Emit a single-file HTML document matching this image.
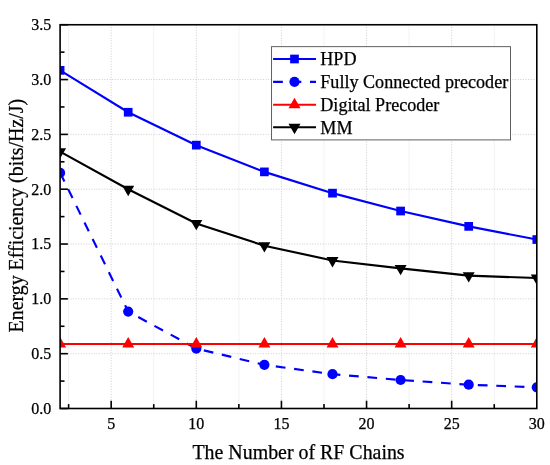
<!DOCTYPE html>
<html lang="en"><head><meta charset="utf-8"><title>Energy Efficiency vs RF Chains</title>
<style>html,body{margin:0;padding:0;background:#fff}body{width:550px;height:465px;overflow:hidden}svg{display:block}text{stroke:#000;stroke-width:0.25px;font-family:"Liberation Serif","Times New Roman",serif;fill:#000}</style></head><body>
<svg width="550" height="465" viewBox="0 0 550 465">
<rect width="550" height="465" fill="#fff"/>
<defs><clipPath id="pc"><rect x="60.1" y="24.75" width="476.70" height="383.75"/></clipPath></defs>
<g stroke-width="1" stroke-dasharray="1 1.6" fill="none"><line x1="68.61" x2="68.61" y1="24.75" y2="408.5" stroke="#f2f2f2" stroke-dasharray="none"/><line x1="111.17" x2="111.17" y1="24.75" y2="408.5" stroke="#cdcdcd"/><line x1="153.74" x2="153.74" y1="24.75" y2="408.5" stroke="#f2f2f2" stroke-dasharray="none"/><line x1="196.30" x2="196.30" y1="24.75" y2="408.5" stroke="#cdcdcd"/><line x1="238.86" x2="238.86" y1="24.75" y2="408.5" stroke="#f2f2f2" stroke-dasharray="none"/><line x1="281.43" x2="281.43" y1="24.75" y2="408.5" stroke="#cdcdcd"/><line x1="323.99" x2="323.99" y1="24.75" y2="408.5" stroke="#f2f2f2" stroke-dasharray="none"/><line x1="366.55" x2="366.55" y1="24.75" y2="408.5" stroke="#cdcdcd"/><line x1="409.11" x2="409.11" y1="24.75" y2="408.5" stroke="#f2f2f2" stroke-dasharray="none"/><line x1="451.67" x2="451.67" y1="24.75" y2="408.5" stroke="#cdcdcd"/><line x1="494.24" x2="494.24" y1="24.75" y2="408.5" stroke="#f2f2f2" stroke-dasharray="none"/><line x1="60.1" x2="536.8" y1="353.68" y2="353.68" stroke="#cdcdcd"/><line x1="60.1" x2="536.8" y1="298.86" y2="298.86" stroke="#cdcdcd"/><line x1="60.1" x2="536.8" y1="244.04" y2="244.04" stroke="#cdcdcd"/><line x1="60.1" x2="536.8" y1="189.21" y2="189.21" stroke="#cdcdcd"/><line x1="60.1" x2="536.8" y1="134.39" y2="134.39" stroke="#cdcdcd"/><line x1="60.1" x2="536.8" y1="79.57" y2="79.57" stroke="#cdcdcd"/></g>
<g clip-path="url(#pc)">
<polyline points="60.10,70.36 128.20,112.25 196.30,145.14 264.40,171.89 332.50,193.16 400.60,211.03 468.70,226.38 536.80,239.54" fill="none" stroke="#0000ff" stroke-width="2.15"/>
<rect x="55.75" y="66.01" width="8.7" height="8.7" fill="#0000ff"/>
<rect x="123.85" y="107.90" width="8.7" height="8.7" fill="#0000ff"/>
<rect x="191.95" y="140.79" width="8.7" height="8.7" fill="#0000ff"/>
<rect x="260.05" y="167.54" width="8.7" height="8.7" fill="#0000ff"/>
<rect x="328.15" y="188.81" width="8.7" height="8.7" fill="#0000ff"/>
<rect x="396.25" y="206.68" width="8.7" height="8.7" fill="#0000ff"/>
<rect x="464.35" y="222.03" width="8.7" height="8.7" fill="#0000ff"/>
<rect x="532.45" y="235.19" width="8.7" height="8.7" fill="#0000ff"/>
<polyline points="60.10,172.77 128.20,311.58 196.30,348.53 264.40,364.86 332.50,374.18 400.60,379.99 468.70,384.71 536.80,387.34" fill="none" stroke="#0000ff" stroke-width="2.15" stroke-dasharray="9.75 8.7"/>
<circle cx="60.10" cy="172.77" r="5.1" fill="#0000ff"/>
<circle cx="128.20" cy="311.58" r="5.1" fill="#0000ff"/>
<circle cx="196.30" cy="348.53" r="5.1" fill="#0000ff"/>
<circle cx="264.40" cy="364.86" r="5.1" fill="#0000ff"/>
<circle cx="332.50" cy="374.18" r="5.1" fill="#0000ff"/>
<circle cx="400.60" cy="379.99" r="5.1" fill="#0000ff"/>
<circle cx="468.70" cy="384.71" r="5.1" fill="#0000ff"/>
<circle cx="536.80" cy="387.34" r="5.1" fill="#0000ff"/>
<polyline points="60.10,344.03 128.20,344.03 196.30,344.03 264.40,344.03 332.50,344.03 400.60,344.03 468.70,344.03 536.80,344.03" fill="none" stroke="#ff0000" stroke-width="2.15"/>
<polygon points="54.10,347.50 66.10,347.50 60.10,337.10" fill="#ff0000"/>
<polygon points="122.20,347.50 134.20,347.50 128.20,337.10" fill="#ff0000"/>
<polygon points="190.30,347.50 202.30,347.50 196.30,337.10" fill="#ff0000"/>
<polygon points="258.40,347.50 270.40,347.50 264.40,337.10" fill="#ff0000"/>
<polygon points="326.50,347.50 338.50,347.50 332.50,337.10" fill="#ff0000"/>
<polygon points="394.60,347.50 406.60,347.50 400.60,337.10" fill="#ff0000"/>
<polygon points="462.70,347.50 474.70,347.50 468.70,337.10" fill="#ff0000"/>
<polygon points="530.80,347.50 542.80,347.50 536.80,337.10" fill="#ff0000"/>
<polyline points="60.10,151.61 128.20,189.21 196.30,223.42 264.40,245.68 332.50,260.48 400.60,268.38 468.70,275.61 536.80,278.02" fill="none" stroke="#000" stroke-width="2.15"/>
<polygon points="54.10,148.14 66.10,148.14 60.10,158.54" fill="#000"/>
<polygon points="122.20,185.75 134.20,185.75 128.20,196.15" fill="#000"/>
<polygon points="190.30,219.96 202.30,219.96 196.30,230.36" fill="#000"/>
<polygon points="258.40,242.21 270.40,242.21 264.40,252.61" fill="#000"/>
<polygon points="326.50,257.02 338.50,257.02 332.50,267.42" fill="#000"/>
<polygon points="394.60,264.91 406.60,264.91 400.60,275.31" fill="#000"/>
<polygon points="462.70,272.15 474.70,272.15 468.70,282.55" fill="#000"/>
<polygon points="530.80,274.56 542.80,274.56 536.80,284.96" fill="#000"/>
</g>
<g stroke="#000" stroke-width="1.6" fill="none"><line x1="68.61" x2="68.61" y1="408.5" y2="404.10"/><line x1="111.17" x2="111.17" y1="408.5" y2="400.70"/><line x1="153.74" x2="153.74" y1="408.5" y2="404.10"/><line x1="196.30" x2="196.30" y1="408.5" y2="400.70"/><line x1="238.86" x2="238.86" y1="408.5" y2="404.10"/><line x1="281.43" x2="281.43" y1="408.5" y2="400.70"/><line x1="323.99" x2="323.99" y1="408.5" y2="404.10"/><line x1="366.55" x2="366.55" y1="408.5" y2="400.70"/><line x1="409.11" x2="409.11" y1="408.5" y2="404.10"/><line x1="451.67" x2="451.67" y1="408.5" y2="400.70"/><line x1="494.24" x2="494.24" y1="408.5" y2="404.10"/><line x1="60.1" x2="67.90" y1="408.50" y2="408.50"/><line x1="60.1" x2="64.50" y1="381.09" y2="381.09"/><line x1="60.1" x2="67.90" y1="353.68" y2="353.68"/><line x1="60.1" x2="64.50" y1="326.27" y2="326.27"/><line x1="60.1" x2="67.90" y1="298.86" y2="298.86"/><line x1="60.1" x2="64.50" y1="271.45" y2="271.45"/><line x1="60.1" x2="67.90" y1="244.04" y2="244.04"/><line x1="60.1" x2="64.50" y1="216.62" y2="216.62"/><line x1="60.1" x2="67.90" y1="189.21" y2="189.21"/><line x1="60.1" x2="64.50" y1="161.80" y2="161.80"/><line x1="60.1" x2="67.90" y1="134.39" y2="134.39"/><line x1="60.1" x2="64.50" y1="106.98" y2="106.98"/><line x1="60.1" x2="67.90" y1="79.57" y2="79.57"/><line x1="60.1" x2="64.50" y1="52.16" y2="52.16"/><line x1="60.1" x2="67.90" y1="24.75" y2="24.75"/><rect x="60.1" y="24.75" width="476.70" height="383.75"/></g>
<text x="111.17" y="429.2" font-size="16" text-anchor="middle">5</text>
<text x="196.30" y="429.2" font-size="16" text-anchor="middle">10</text>
<text x="281.43" y="429.2" font-size="16" text-anchor="middle">15</text>
<text x="366.55" y="429.2" font-size="16" text-anchor="middle">20</text>
<text x="451.67" y="429.2" font-size="16" text-anchor="middle">25</text>
<text x="536.80" y="429.2" font-size="16" text-anchor="middle">30</text>
<text x="51.3" y="413.90" font-size="16" text-anchor="end">0.0</text>
<text x="51.3" y="359.08" font-size="16" text-anchor="end">0.5</text>
<text x="51.3" y="304.26" font-size="16" text-anchor="end">1.0</text>
<text x="51.3" y="249.44" font-size="16" text-anchor="end">1.5</text>
<text x="51.3" y="194.61" font-size="16" text-anchor="end">2.0</text>
<text x="51.3" y="139.79" font-size="16" text-anchor="end">2.5</text>
<text x="51.3" y="84.97" font-size="16" text-anchor="end">3.0</text>
<text x="51.3" y="30.15" font-size="16" text-anchor="end">3.5</text>
<text x="298.55" y="459.4" font-size="19.9" text-anchor="middle">The Number of RF Chains</text>
<text transform="translate(23.4,215.7) rotate(-90) scale(1,1.04)" font-size="19.9" text-anchor="middle">Energy Efficiency (bits/Hz/J)</text>
<rect x="271.55" y="46.65" width="238.95" height="93.25" fill="#fff" stroke="#585858" stroke-width="0.95"/>
<line x1="273.1" x2="316.0" y1="59.0" y2="59.0" stroke="#0000ff" stroke-width="2.15"/>
<rect x="290.15" y="54.65" width="8.7" height="8.7" fill="#0000ff"/>
<text x="320.3" y="65.00" font-size="18.1">HPD</text>
<line x1="273.1" x2="316.0" y1="81.8" y2="81.8" stroke="#0000ff" stroke-width="2.15" stroke-dasharray="9.75 8.7"/>
<circle cx="294.5" cy="81.8" r="5.1" fill="#0000ff"/>
<text x="320.3" y="87.80" font-size="18.1">Fully Connected precoder</text>
<line x1="273.1" x2="316.0" y1="104.7" y2="104.7" stroke="#ff0000" stroke-width="2.15"/>
<polygon points="288.50,108.17 300.50,108.17 294.50,97.77" fill="#ff0000"/>
<text x="320.3" y="110.70" font-size="18.1">Digital Precoder</text>
<line x1="273.1" x2="316.0" y1="127.2" y2="127.2" stroke="#000" stroke-width="2.15"/>
<polygon points="288.50,123.73 300.50,123.73 294.50,134.13" fill="#000"/>
<text x="320.3" y="133.70" font-size="18.1">MM</text>
</svg></body></html>
